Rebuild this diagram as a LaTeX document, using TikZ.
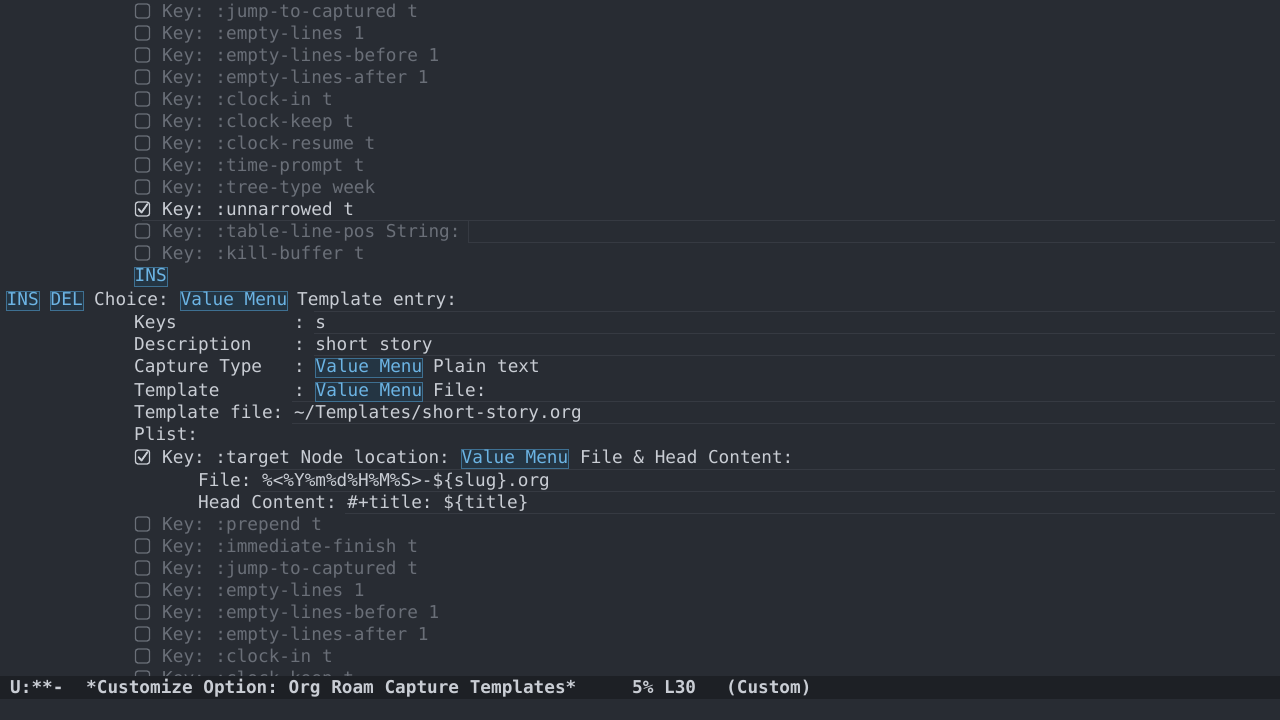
\documentclass[tikz,border=0pt]{standalone}
\usepackage{fontspec}
\setmonofont{DejaVu Sans Mono}
\definecolor{bg}{HTML}{282C33}
\definecolor{ml}{HTML}{1D2025}
\definecolor{fg}{HTML}{C9CDD4}
\definecolor{dim}{HTML}{6A6F78}
\definecolor{btxt}{HTML}{6CB4E4}
\definecolor{bbord}{HTML}{3E7092}
\definecolor{bfill}{HTML}{243543}
\definecolor{fld}{HTML}{363A42}
\tikzset{
 txt/.style={anchor=base west,inner sep=0pt,font=\ttfamily\fontsize{17.7}{22}\selectfont,text=fg},
 dimtxt/.style={txt,text=dim},
 btn/.style={txt,text=btxt,draw=bbord,fill=bfill,line width=0.8pt,inner xsep=0.3pt,text height=14pt,text depth=5pt},
 cbox/.style={draw=#1,rounded corners=2.5pt,line width=1.3pt},
 fieldbox/.style={draw=fld,line width=0.8pt},
 modetxt/.style={txt,font=\ttfamily\bfseries\fontsize{17.7}{22}\selectfont}
}
\begin{document}
\begin{tikzpicture}[x=1pt,y=1pt]
\fill[bg] (0,0) rectangle (1280,-720);
\useasboundingbox (0,0) rectangle (1280,-720);
% field boxes
\foreach \x/\y in {470/231,316/322,316/344,294/412,262/480,347/502}
  \draw[fieldbox] (\x-2,-\y+11) -- (1275,-\y+11) (\x-2,-\y-11) -- (1275,-\y-11);
\draw[fieldbox] (142,-220) -- (1275,-220);
\draw[fieldbox] (468,-220) -- (468,-242);
% checkbox rows
\foreach \y/\t [count=\i] in {11/{Key: :jump-to-captured t},33/{Key: :empty-lines 1},55/{Key: :empty-lines-before 1},77/{Key: :empty-lines-after 1},99/{Key: :clock-in t},121/{Key: :clock-keep t},143/{Key: :clock-resume t},165/{Key: :time-prompt t},187/{Key: :tree-type week},231/{Key: :table-line-pos String:},253/{Key: :kill-buffer t},524/{Key: :prepend t},546/{Key: :immediate-finish t},568/{Key: :jump-to-captured t},590/{Key: :empty-lines 1},612/{Key: :empty-lines-before 1},634/{Key: :empty-lines-after 1},656/{Key: :clock-in t},678/{Key: :clock-keep t}}{
  \draw[cbox=dim] (135.5,-\y+7) rectangle (149.5,-\y-7);
  \node[dimtxt] (r\i) at (162,-\y-6) {\t};
}
% checked rows
\foreach \y/\n in {209/a,457/b}{
  \draw[cbox=fg] (135.5,-\y+7) rectangle (149.5,-\y-7);
  \draw[fg,line width=1.8pt,line cap=round,line join=round] (138.5,-\y) -- (141.5,-\y-3.5) -- (147.5,-\y+5);
}
\node[txt] (unn) at (162,-215) {Key: :unnarrowed t};
\node[btn] (ins1) at (134,-281) {INS};
\node[btn] (ins2) at (6,-305) {INS};
\node[btn] (del) at (50,-305) {DEL};
\node[txt] (choice) at (94,-305) {Choice:};
\node[btn] (vm1) at (180,-305) {Value Menu};
\node[txt] (te) at (297,-305) {Template entry:};
\node[txt] (keys) at (134,-328) {Keys\ \ \ \ \ \ \ \ \ \ \ : s};
\node[txt] (desc) at (134,-350) {Description\ \ \ \ : short story};
\node[txt] (ct) at (134,-372) {Capture Type\ \ \ :};
\node[btn] (vm2) at (315,-372) {Value Menu};
\node[txt] (pt) at (433,-372) {Plain text};
\node[txt] (tp) at (134,-396) {Template\ \ \ \ \ \ \ :};
\node[btn] (vm3) at (315,-396) {Value Menu};
\node[txt] (fl) at (433,-396) {File:};
\node[txt] (tf) at (134,-418) {Template file: \textasciitilde/Templates/short-story.org};
\node[txt] (pl) at (134,-440) {Plist:};
\node[txt] (tg) at (162,-463) {Key: :target Node location:};
\node[btn] (vm4) at (461,-463) {Value Menu};
\node[txt] (fh) at (580,-463) {File \& Head Content:};
\node[txt] (fi) at (198,-486) {File: \%<\%Y\%m\%d\%H\%M\%S>-\$\{slug\}.org};
\node[txt] (hc) at (198,-508) {Head Content: \#+title: \$\{title\}};
% mode line
\fill[ml] (0,-676) rectangle (1280,-699);
\node[modetxt] (m1) at (10,-693) {U:**-};
\node[modetxt] (m2) at (86,-693) {*Customize Option: Org Roam Capture Templates*};
\node[modetxt] (m3) at (632,-693) {5\% L30};
\node[modetxt] (m4) at (726,-693) {(Custom)};
\end{tikzpicture}
\end{document}
